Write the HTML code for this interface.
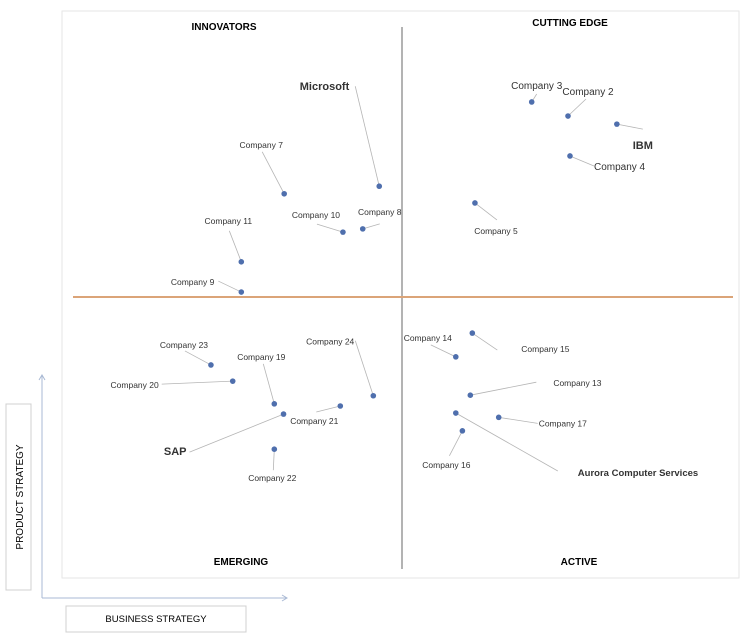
<!DOCTYPE html>
<html><head><meta charset="utf-8"><style>
body{margin:0;background:#fff;}
svg{display:block;font-family:"Liberation Sans",sans-serif;}
</style></head><body>
<svg width="747" height="644" viewBox="0 0 747 644">
<rect x="62" y="11" width="677" height="567" fill="#fff" stroke="#e6e6e6"/>
<line x1="402" y1="27" x2="402" y2="569" stroke="#9a9a9a" stroke-width="1.5"/>
<line x1="73" y1="297" x2="733" y2="297" stroke="#dba478" stroke-width="2"/>
<text x="224" y="30" font-size="10" font-weight="bold" text-anchor="middle">INNOVATORS</text>
<text x="570" y="26" font-size="10" font-weight="bold" text-anchor="middle">CUTTING EDGE</text>
<text x="241" y="565" font-size="10" font-weight="bold" text-anchor="middle">EMERGING</text>
<text x="579" y="565" font-size="10" font-weight="bold" text-anchor="middle">ACTIVE</text>
<g stroke="#a9b9d4" fill="none" stroke-width="1">
<path d="M42 598 L42 375 M39 380 L42 375 L45 380"/>
<path d="M42 598 L287 598 M282 595 L287 598 L282 601"/>
</g>
<rect x="6" y="404" width="25" height="186" fill="#fff" stroke="#d0d0d0"/>
<text transform="translate(23,497) rotate(-90)" font-size="10" text-anchor="middle">PRODUCT STRATEGY</text>
<rect x="66" y="606" width="180" height="26" fill="#fff" stroke="#d0d0d0"/>
<text x="156" y="622" font-size="9.5" text-anchor="middle">BUSINESS STRATEGY</text>
<g id="marks"></g>
</svg>
<script>
const names=["Microsoft","Company 7","Company 10","Company 8","Company 11","Company 9","Company 3","Company 2","IBM","Company 4","Company 5","Company 23","Company 20","Company 19","Company 21","SAP","Company 24","Company 22","Company 14","Company 15","Company 13","Company 17","Company 16","Aurora Computer Services"];
const businessScore=[46.4,32.0,40.9,43.9,25.5,25.5,69.5,75.0,82.4,75.3,60.9,20.9,24.2,30.5,40.5,31.9,45.5,30.5,58.0,60.5,60.2,64.5,59.0,58.0];
const productScore=[70.7,69.3,62.2,62.8,56.7,51.1,86.3,83.7,82.2,76.3,67.6,37.6,34.6,30.4,30.0,28.5,31.9,22.0,39.1,43.5,32.0,27.9,25.4,28.7];
const bold=[1,0,0,0,0,0,0,0,1,0,0,0,0,0,0,1,0,0,0,0,0,0,0,1];
// label placement offsets (styling): [leaderX,leaderY,textX,textY,anchor,size]
const lab=[[-24,-100,-30,-96,"end",11],[-22,-42,-23,-46,"middle",8.5],[-26,-8,-27,-14,"middle",8.5],[17,-5,17,-14,"middle",8.5],[-12,-31,-13,-38,"middle",8.5],[-23,-11,-27,-7,"end",8.5],[5,-8,5,-13,"middle",10],[18,-17,20,-21,"middle",10],[26,5,26,25,"middle",11],[24,10,24,14,"start",10],[22,17,21,31,"middle",8.5],[-26,-14,-27,-17,"middle",8.5],[-71,3,-74,7,"end",8.5],[-11,-40,-13,-44,"middle",8.5],[-24,6,-26,18,"middle",8.5],[-94,38,-97,41,"end",11],[-18,-55,-19,-51,"end",8.5],[-1,21,-2,32,"middle",8.5],[-25,-12,-28,-16,"middle",8.5],[25,17,49,19,"start",8.5],[66,-13,83,-9,"start",8.5],[39,6,40,9,"start",8.5],[-13,25,-16,37,"middle",8.5],[102,58,122,63,"start",9.5]];
const xs=v=>73+v*6.6, ys=v=>568-v*5.4;
const g=document.getElementById('marks');
const NS="http://www.w3.org/2000/svg";
names.forEach((n,i)=>{
 const px=xs(businessScore[i]),py=ys(productScore[i]),L=lab[i];
 const l=document.createElementNS(NS,'line');
 
 
 l.setAttribute('x1',px);l.setAttribute('y1',py);l.setAttribute('x2',px+L[0]);l.setAttribute('y2',py+L[1]);
 l.setAttribute('stroke','#b5b5b5');l.setAttribute('stroke-width','0.8');
 g.appendChild(l);
 const c=document.createElementNS(NS,'circle');
 
 
 c.setAttribute('cx',px);c.setAttribute('cy',py);c.setAttribute('r','2.8');c.setAttribute('fill','#4f6fad');
 g.appendChild(c);
 const t=document.createElementNS(NS,'text');
 
 
 t.setAttribute('x',px+L[2]);t.setAttribute('y',py+L[3]);t.setAttribute('text-anchor',L[4]);
 t.setAttribute('font-size',L[5]);t.setAttribute('fill','#333');
 if(bold[i])t.setAttribute('font-weight','bold');
 t.textContent=n;
 g.appendChild(t);
});
</script>
</body></html>
